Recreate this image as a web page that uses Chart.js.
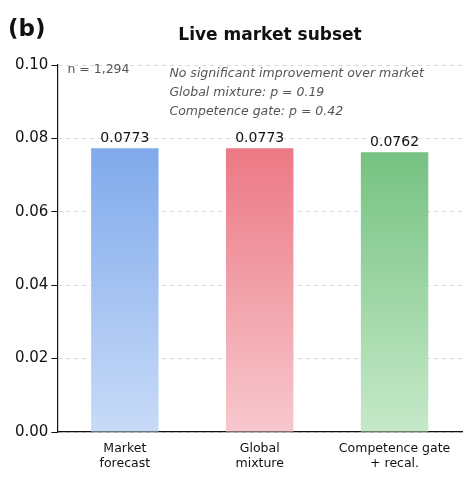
<!DOCTYPE html>
<html>
<head>
<meta charset="utf-8">
<script src="https://cdn.jsdelivr.net/npm/chart.js@4.4.1/dist/chart.umd.min.js"></script>
<style>
  html, body { margin: 0; padding: 0; background: #fff; }
  #wrap { width: 474px; height: 486px; }
</style>
</head>
<body>
<div id="wrap"><canvas id="chart" width="474" height="486"></canvas></div>
<script>
const categories = [['Market', 'forecast'], ['Global', 'mixture'], ['Competence gate', '+ recal.']];
const scores = [0.0773, 0.0773, 0.0762];
const valueLabels = ['0.0773', '0.0773', '0.0762'];
const gradientStops = [
    ['#6b9be8', '#c8dbf8'],
    ['#e8616f', '#f8c8ce'],
    ['#5db66b', '#c6e9c9']
];
const notes = [
    'No significant improvement over market',
    'Global mixture: p = 0.19',
    'Competence gate: p = 0.42'
];
const sampleNote = 'n = 1,294';

const FONT = '"DejaVu Sans", sans-serif';

const overlay = {
    id: 'overlay',
    afterDatasetsDraw(chart) {
        const ctx = chart.ctx;
        const area = chart.chartArea;
        ctx.save();
        // panel letter and title
        ctx.fillStyle = '#111';
        ctx.textBaseline = 'alphabetic';
        ctx.font = 'bold 23px ' + FONT;
        ctx.textAlign = 'left';
        ctx.fillText('(b)', 8, 36);
        ctx.font = 'bold 17px ' + FONT;
        ctx.textAlign = 'center';
        ctx.fillText('Live market subset', 270, 40);

        // value labels above bars
        ctx.font = '14px ' + FONT;
        ctx.fillStyle = '#111';
        chart.getDatasetMeta(0).data.forEach((bar, i) => {
            ctx.fillText(valueLabels[i], bar.x, bar.y - 6);
        });

        // annotations
        ctx.textAlign = 'left';
        ctx.fillStyle = '#555';
        ctx.font = '12.5px ' + FONT;
        ctx.fillText(sampleNote, area.left + 10, area.top + 8);
        ctx.font = 'italic 12.5px ' + FONT;
        notes.forEach((t, i) => {
            ctx.fillText(t, area.left + 112, area.top + 12 + i * 19);
        });
        ctx.restore();
    }
};

new Chart(document.getElementById('chart').getContext('2d'), {
    type: 'bar',
    data: {
        labels: categories,
        datasets: [{
            data: scores,
            backgroundColor: (c) => {
                const area = c.chart.chartArea;
                if (!area) return gradientStops[c.dataIndex][0];
                const g = c.chart.ctx.createLinearGradient(0, area.top, 0, area.bottom);
                g.addColorStop(0, gradientStops[c.dataIndex][0]);
                g.addColorStop(1, gradientStops[c.dataIndex][1]);
                return g;
            },
            borderWidth: 0,
            categoryPercentage: 1,
            barPercentage: 0.5
        }]
    },
    plugins: [overlay],
    options: {
        responsive: false,
        animation: false,
        devicePixelRatio: 1,
        layout: { padding: { top: 65, left: 12, right: 12, bottom: 12 } },
        plugins: { legend: { display: false }, tooltip: { enabled: false } },
        scales: {
            y: {
                min: 0, max: 0.1,
                ticks: { stepSize: 0.02, color: '#111', font: { family: FONT, size: 15 },
                         callback: v => v.toFixed(2) },
                grid: { color: '#d8d8d8', drawTicks: true, tickLength: 6, tickColor: '#111' },
                border: { display: true, color: '#111', width: 1.2, dash: [4, 4] }
            },
            x: {
                ticks: { color: '#111', font: { family: FONT, size: 12.5 } },
                grid: { display: false, drawTicks: true, tickLength: 6 },
                border: { display: true, color: '#111', width: 1.2 }
            }
        }
    }
});
</script>
</body>
</html>
